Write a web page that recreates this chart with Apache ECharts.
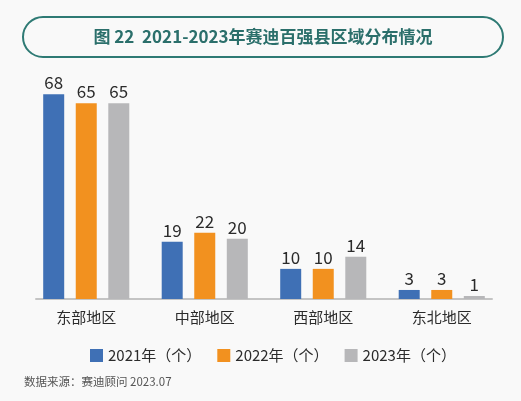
<!DOCTYPE html>
<html>
<head>
<meta charset="utf-8">
<script src="https://cdn.jsdelivr.net/npm/echarts@6/dist/echarts.min.js"></script>
<style>
  html, body { margin: 0; padding: 0; background: #f9f9f9; }
  #chart { width: 521px; height: 401px; }
</style>
</head>
<body>
<div id="chart"></div>
<script>
// 数据
const categories = ['东部地区', '中部地区', '西部地区', '东北地区']
const seriesNames = ['2021年（个）', '2022年（个）', '2023年（个）']
const data2021 = [68, 19, 10, 3]
const data2022 = [65, 22, 10, 3]
const data2023 = [65, 20, 14, 1]
const colors = ['#3f70b5', '#f2911f', '#b7b7b9']

const font = '"Noto Sans CJK SC", "Noto Sans", sans-serif'
const chart = echarts.init(document.getElementById('chart'))

const makeSeries = (name, values, color) => ({
  name: name,
  type: 'bar',
  data: values,
  barWidth: 21,
  barGap: '55%',
  itemStyle: { color: color },
  label: {
    show: true,
    position: 'top',
    distance: 3,
    color: '#2b2b2b',
    fontSize: 17,
    fontFamily: font
  }
})

chart.setOption({
  backgroundColor: '#f9f9f9',
  animation: false,
  graphic: [
    {
      type: 'rect',
      shape: { x: 23, y: 17, width: 480, height: 40, r: 20 },
      style: { fill: 'transparent', stroke: '#2e7a74', lineWidth: 2 }
    },
    {
      type: 'text',
      x: 263,
      y: 37,
      style: {
        text: '图 22  2021-2023年赛迪百强县区域分布情况',
        fill: '#2b6f6b',
        fontSize: 17,
        fontWeight: 'bold',
        fontFamily: font,
        align: 'center',
        verticalAlign: 'middle'
      }
    },
    {
      type: 'text',
      x: 24,
      y: 382,
      style: {
        text: '数据来源：赛迪顾问 2023.07',
        fill: '#555555',
        fontSize: 11.5,
        fontFamily: font,
        verticalAlign: 'middle'
      }
    }
  ],
  legend: {
    data: seriesNames,
    top: 343,
    left: 85,
    itemWidth: 13,
    itemHeight: 13,
    itemGap: 16,
    icon: 'rect',
    textStyle: { fontSize: 15, color: '#2b2b2b', fontFamily: font }
  },
  grid: [
    { left: 27, right: 20, top: 58, bottom: 102 },
    { left: 36, right: 29, top: 58, bottom: 102 }
  ],
  xAxis: [
    {
      type: 'category',
      data: categories,
      gridIndex: 0,
      axisLine: { show: false },
      axisTick: { show: false },
      axisLabel: {
        margin: 11,
        fontSize: 15,
        color: '#2b2b2b',
        fontFamily: font
      }
    },
    {
      // 只用来画底部的轴线
      type: 'category',
      data: categories,
      gridIndex: 1,
      axisLine: { show: true, lineStyle: { color: '#c4c4c4', width: 2 } },
      axisTick: { show: false },
      axisLabel: { show: false }
    }
  ],
  yAxis: [
    { type: 'value', gridIndex: 0, min: 0, max: 80, show: false },
    { type: 'value', gridIndex: 1, min: 0, max: 80, show: false }
  ],
  series: [
    makeSeries(seriesNames[0], data2021, colors[0]),
    makeSeries(seriesNames[1], data2022, colors[1]),
    makeSeries(seriesNames[2], data2023, colors[2])
  ]
})
</script>
</body>
</html>
